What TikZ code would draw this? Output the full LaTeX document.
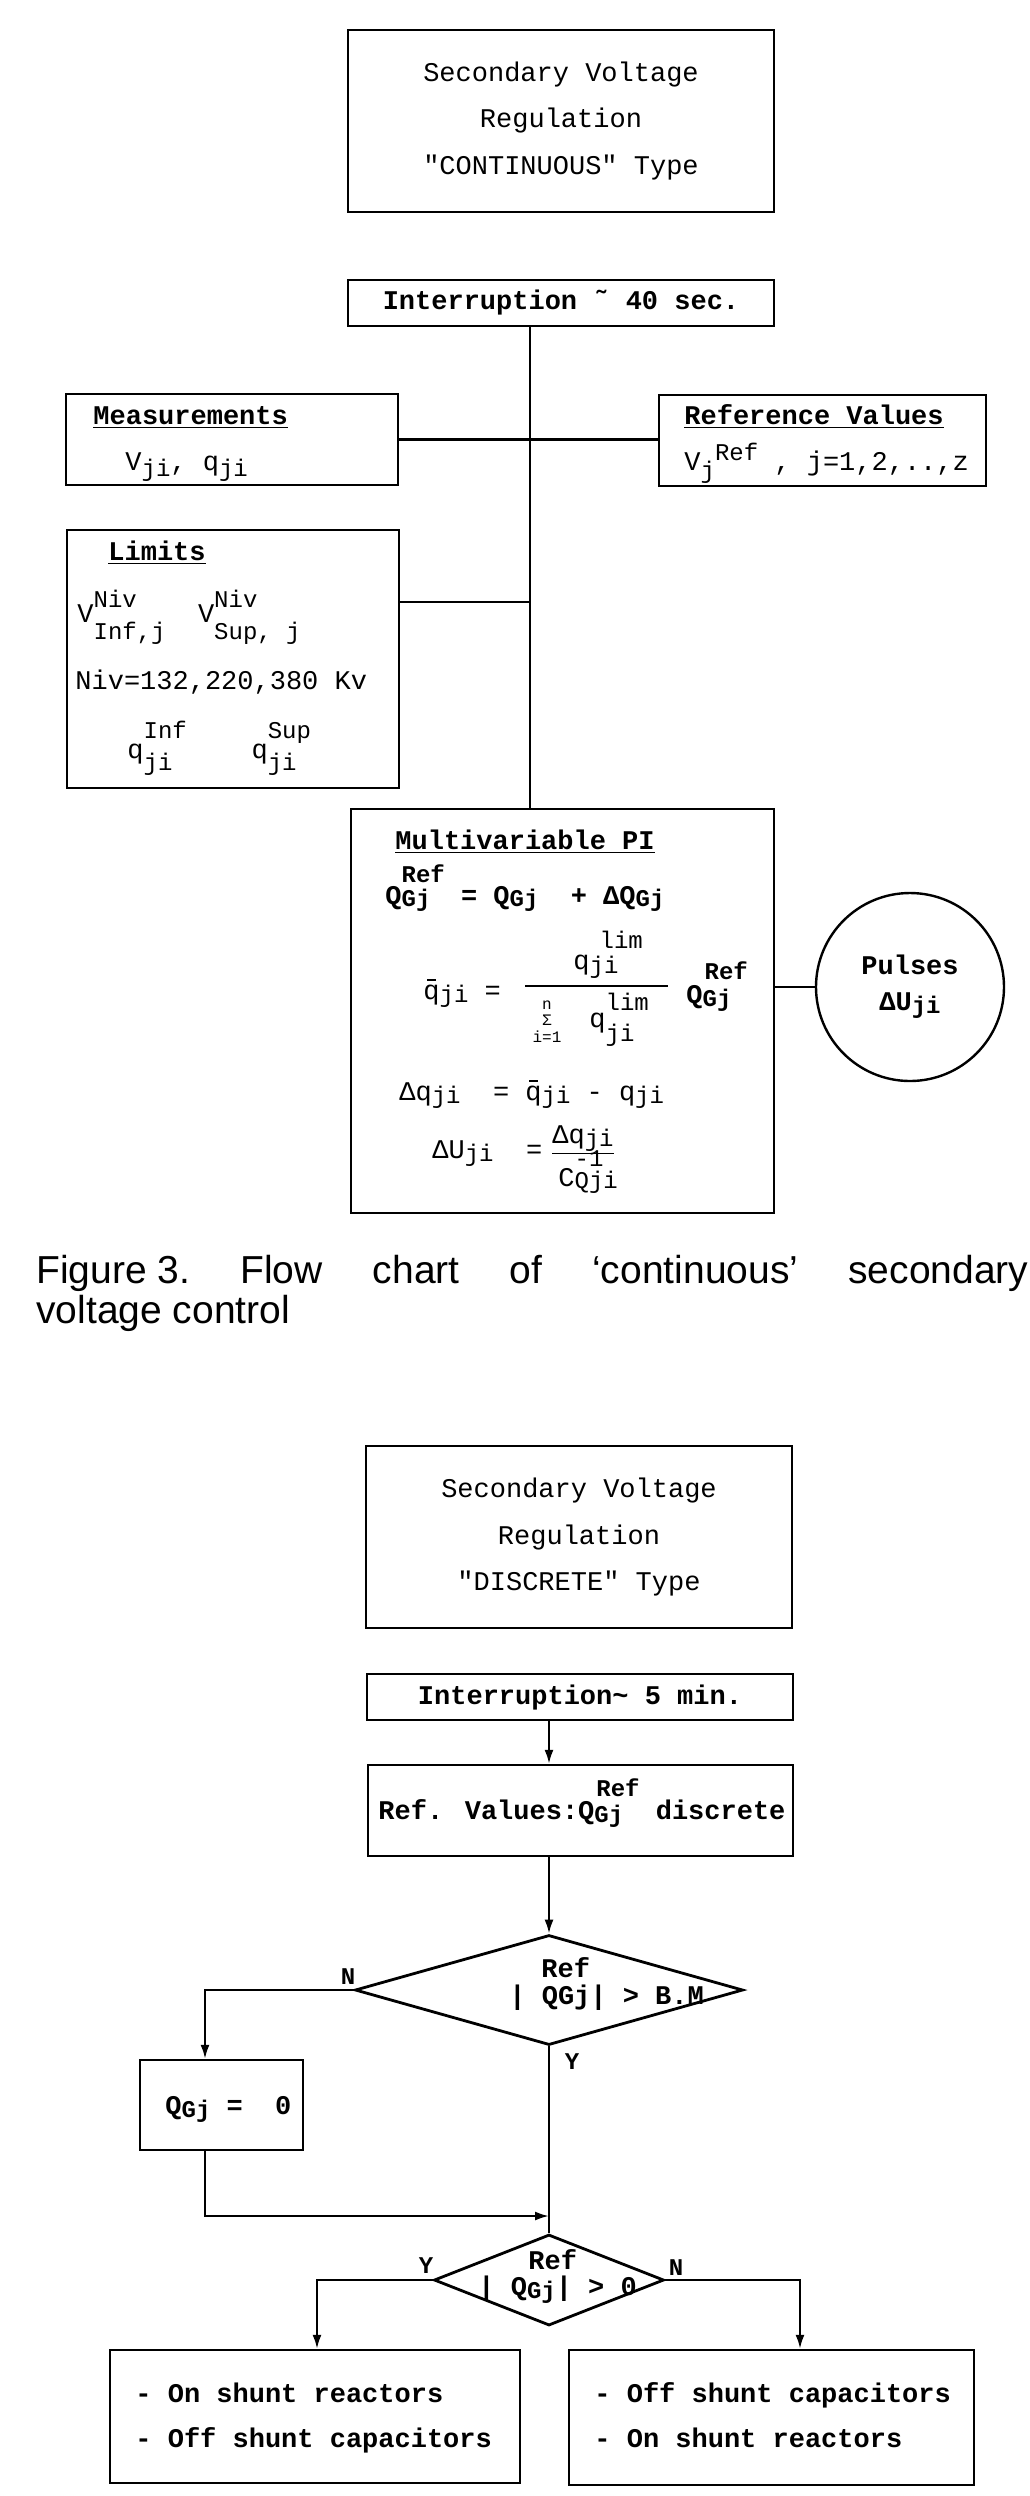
\documentclass[tikz,border=0pt]{standalone}
\usepackage{fontspec}
\usetikzlibrary{positioning,arrows.meta,shapes.geometric}
\newfontfamily\tw{Liberation Mono}
\newfontfamily\capfont{Liberation Sans}
\newcommand\scr{\fontsize{12}{12}\selectfont}
\newcommand\lowr[2][1.5pt]{\raisebox{-#1}{\scr #2}}
\newcommand\highr[2][11pt]{\raisebox{#1}{\scr #2}}
\newcommand\updn[4]{\rlap{\raisebox{#1}{\scr #3}}\raisebox{-#2}{\scr #4}}
\newcommand\dnup[4]{\rlap{\raisebox{-#2}{\scr #4}}\raisebox{#1}{\scr #3}}
\newcommand\qbar{\rlap{\kern2pt\rule[9pt]{4.5pt}{0.9pt}}q}

\tikzset{
  box/.style={draw, line width=1.2pt, inner sep=0pt},
  txt/.style={font=\tw\fontsize{13.5}{16}\selectfont, inner sep=0pt, anchor=base west},
  txtb/.style={txt, font=\tw\bfseries\fontsize{13.5}{16}\selectfont},
  tiny/.style={font=\tw\fontsize{8}{8}\selectfont, inner sep=0pt, anchor=base},
  ctr/.style={font=\tw\fontsize{13.5}{23.3}\selectfont, align=center},
  link/.style={line width=1.3pt},
  flow/.style={line width=1.1pt, -{Latex[length=7pt,width=4.5pt]}},
  yn/.style={font=\tw\bfseries\fontsize{12}{12}\selectfont, inner sep=0pt},
}

\begin{document}
\begin{tikzpicture}[x=0.5pt,y=-0.5pt]
  \fill[white] (0,0) rectangle (1029,2496);
  \useasboundingbox (0,0) rectangle (1029,2496);

  % continuous type
  \node[box, ctr, minimum width=213pt, minimum height=91pt] (ctitle) at (561,121)
    {Secondary Voltage\\Regulation\\"CONTINUOUS" Type};
  \node[box, minimum width=213pt, minimum height=23pt, font=\tw\bfseries\fontsize{13.5}{16}\selectfont] (cint) at (561,303)
    {Interruption ˜ 40 sec.};

  \node[box, minimum width=166pt, minimum height=45.5pt] (meas) at (232,439.5) {};
  \node[txtb] (meash) at (93,424) {\underline{Measurements}};
  \node[txt] (measv) at (125,470) {V\lowr[3pt]{ji},~q\lowr[3pt]{ji}};

  \node[box, minimum width=163.5pt, minimum height=45.5pt] (refv) at (822.5,440.5) {};
  \node[txtb] (refh) at (684,424) {\underline{Reference Values}};
  \node[txt] (refvv) at (684,470) {V\lowr[4pt]{j}\highr[5pt]{Ref}~, j=1,2,..,z};

  \node[box, minimum width=166pt, minimum height=129pt] (lim) at (233,659) {};
  \node[txtb] (limh) at (108,560) {\underline{Limits}};
  \node[txt] (limv) at (77,622) {V\updn{7.5pt}{8.5pt}{Niv}{Inf,j}~~V\updn{7.5pt}{8.5pt}{Niv}{Sup,~j}};
  \node[txt] (limn) at (75,689) {Niv=132,220,380 Kv};
  \node[txt] (limq) at (127,758) {q\dnup{10pt}{6pt}{Inf}{ji}~~~~q\dnup{10pt}{6pt}{Sup}{ji}};

  \node[box, minimum width=211.5pt, minimum height=202pt] (pi) at (562.5,1011) {};
  \node[txtb] (pih) at (395,849) {\underline{Multivariable PI}};
  \node[txtb] (pi1) at (385,904) {Q\dnup{11pt}{1pt}{Ref}{Gj}~=~Q\lowr[1pt]{Gj}~~+~ΔQ\lowr[1pt]{Gj}};
  \node[txt] (pq) at (423,999) {\qbar\lowr{ji}~=};
  \node[txt] (pnum) at (573,969) {q\dnup{10.5pt}{2pt}{\kern5pt lim}{ji}};
  \draw[line width=1pt] (525,986) -- (668,986);
  \node[tiny] (psn) at (547,1009) {n};
  \node[tiny] (pss) at (547,1025) {Σ};
  \node[tiny] (psi) at (547,1042) {i=1};
  \node[txt] (pden) at (589,1027) {q\dnup{8.5pt}{7pt}{lim}{ji}};
  \node[txtb] (pqr) at (686,1003) {Q\dnup{12pt}{1.5pt}{\kern1pt Ref}{Gj}};
  \node[txt] (pi3) at (399,1100) {Δq\lowr{ji}~~=~\qbar\lowr{ji}~-~q\lowr{ji}};
  \node[txt] (pdu) at (432,1158) {ΔU\lowr{ji}~~=};
  \node[txt] (pnum2) at (552,1143) {\underline{Δq\lowr{ji}}};
  \node[txt] (pden2) at (558,1186) {C\updn{10pt}{1pt}{-1}{Qji}};

  \node[draw, circle, line width=1.2pt, minimum size=94pt, inner sep=0pt, align=center,
        font=\tw\bfseries\fontsize{13.5}{18}\selectfont] (pulses) at (910,987) {Pulses\\ΔU\lowr{ji}};

  \coordinate (spine) at (530,0);
  \coordinate (limrow) at (0,602);
  \draw[line width=0.7pt] (cint.south -| spine) -- (pi.north -| spine);
  \draw[link] (meas.east) -- (meas.east -| refv.west);
  \draw[link] (lim.east |- limrow) -- (spine |- limrow);
  \draw[link] (pi.east |- pulses) -- (pulses.west);

  \node[anchor=base west, inner sep=0pt, font=\capfont\fontsize{19.5}{23}\selectfont] (cap1) at (36,1283)
    {\makebox[496pt][s]{\mbox{Figure 3.} Flow chart of ‘continuous’ secondary}};
  \node[anchor=base west, inner sep=0pt, font=\capfont\fontsize{19.5}{23}\selectfont] (cap2) at (36,1323)
    {voltage control};

  % discrete type
  \node[box, ctr, minimum width=213pt, minimum height=91pt] (dtitle) at (579,1537)
    {Secondary Voltage\\Regulation\\"DISCRETE" Type};
  \node[box, minimum width=213pt, minimum height=23pt, font=\tw\bfseries\fontsize{13.5}{16}\selectfont] (dint) at (580,1697)
    {Interruption\textasciitilde{} 5 min.};
  \node[box, minimum width=212.5pt, minimum height=45.5pt] (dref) at (580.5,1810.5) {};
  \node[txtb] (drefv) at (378,1819) {Ref. Values:Q\dnup{11.5pt}{1.5pt}{\kern1pt Ref}{Gj} discrete};

  \node[draw, diamond, line width=1.4pt, minimum width=194pt, minimum height=55pt, inner sep=0pt] (dia1) at (549,1990) {};
  \node[txtb] (dia1a) at (541,1977) {Ref};
  \node[txtb] (dia1b) at (509,2004) {|~QGj|~>~B.M};

  \node[box, minimum width=81.5pt, minimum height=45pt] (q0) at (221.5,2105) {};
  \node[txtb] (q0v) at (165,2114) {Q\lowr{Gj}~=~~0};

  \node[draw, diamond, line width=1.4pt, minimum width=115pt, minimum height=45.5pt, inner sep=0pt] (dia2) at (549,2280) {};
  \node[txtb] (dia2a) at (528,2269) {Ref};
  \node[txtb] (dia2b) at (478,2295) {|~Q\lowr{Gj}|~>~0};

  \node[box, minimum width=205pt, minimum height=66.5pt] (lbox) at (315,2416.5) {};
  \node[txtb] (lbox1) at (135,2402) {- On shunt reactors};
  \node[txtb] (lbox2) at (135,2447) {- Off shunt capacitors};
  \node[box, minimum width=202.5pt, minimum height=67.5pt] (rbox) at (771.5,2417.5) {};
  \node[txtb] (rbox1) at (594,2402) {- Off shunt capacitors};
  \node[txtb] (rbox2) at (594,2447) {- On shunt reactors};

  \node[yn] (n1) at (348,1977) {N};
  \node[yn] (y1) at (572,2062) {Y};
  \node[yn] (y2) at (426,2266) {Y};
  \node[yn] (n2) at (676,2268) {N};

  \coordinate (dspine) at (549,0);
  \coordinate (nleg) at (205,0);
  \coordinate (merge) at (549,2216);
  \coordinate (yleg) at (317,0);
  \coordinate (nleg2) at (800,0);
  \draw[flow] (dint.south -| dspine) -- (dref.north -| dspine);
  \draw[flow] (dref.south -| dspine) -- (dia1.north);
  \draw[flow] (dia1.west) -- (nleg |- dia1.west) -- (nleg |- q0.north);
  \draw[flow] (nleg |- q0.south) |- (merge);
  \draw[line width=1.1pt] (dia1.south) -- (dia2.north);
  \draw[flow] (dia2.west) -| (yleg |- lbox.north);
  \draw[flow] (dia2.east) -| (nleg2 |- rbox.north);
\end{tikzpicture}
\end{document}
